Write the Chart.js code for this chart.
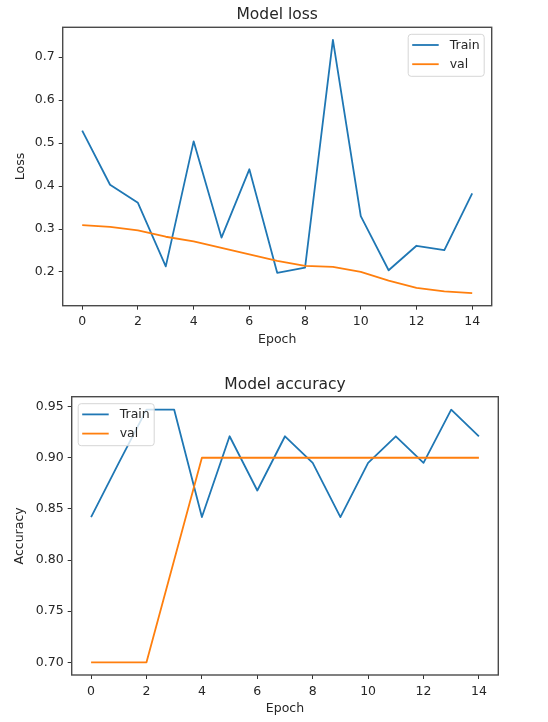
<!DOCTYPE html>
<html><head><meta charset="utf-8">
<script src="https://cdn.jsdelivr.net/npm/chart.js@4/dist/chart.umd.min.js"></script>
<style>
html,body{margin:0;padding:0;background:#fff;}
#wrap{position:relative;width:548px;height:722px;background:#fff;}
.box{position:absolute;left:0;width:548px;height:361px;}
</style></head><body>
<div id="wrap">
<div class="box" style="top:0"><canvas id="c1" width="548" height="361"></canvas></div>
<div class="box" style="top:361px"><canvas id="c2" width="548" height="361"></canvas></div>
</div>
<script>
const epochs = [0,1,2,3,4,5,6,7,8,9,10,11,12,13,14];
const lossTrain = [0.529,0.403,0.361,0.213,0.504,0.280,0.439,0.198,0.210,0.740,0.330,0.204,0.261,0.251,0.383];
const lossVal = [0.309,0.305,0.297,0.282,0.271,0.256,0.241,0.226,0.214,0.212,0.200,0.180,0.163,0.155,0.151];
const accTrain = [0.842,0.895,0.947,0.947,0.842,0.921,0.868,0.921,0.895,0.842,0.895,0.921,0.895,0.947,0.921];
const accVal = [0.70,0.70,0.70,0.80,0.90,0.90,0.90,0.90,0.90,0.90,0.90,0.90,0.90,0.90,0.90];
const lossTicks = [0.2,0.3,0.4,0.5,0.6,0.7];
const accTicks = [0.70,0.75,0.80,0.85,0.90,0.95];
const epochTicks = [0,2,4,6,8,10,12,14];
const seriesNames = ['Train','val'];

const BLUE = '#1f77b4', ORANGE = '#ff7f0e', TXT = '#262626';
const FONT = '"DejaVu Sans", sans-serif';

function makeChart(id, o) {
  const W = 548, H = 361;
  const a = o.area;
  const deco = {
    id: 'deco' + id,
    afterDraw(chart) {
      const ctx = chart.ctx, ca = chart.chartArea;
      ctx.save();
      // frame
      ctx.strokeStyle = '#4a4a4a'; ctx.lineWidth = 1.4;
      ctx.strokeRect(ca.left, ca.top, ca.right - ca.left, ca.bottom - ca.top);
      // title
      ctx.fillStyle = TXT;
      ctx.font = '15.5px ' + FONT;
      ctx.textAlign = 'center'; ctx.textBaseline = 'middle';
      ctx.fillText(o.title, (ca.left + ca.right) / 2, o.titleY);
      // x label
      ctx.font = '12.5px ' + FONT;
      ctx.fillText('Epoch', (ca.left + ca.right) / 2, o.xlabelY);
      // y label
      ctx.save();
      ctx.translate(o.ylabelX, (ca.top + ca.bottom) / 2);
      ctx.rotate(-Math.PI / 2);
      ctx.fillText(o.ylabel, 0, 0);
      ctx.restore();
      // legend
      const lg = o.legend;
      const bw = 76, bh = 42;
      const bx = lg.right ? ca.right - 7.5 - bw : ca.left + 6.5;
      const by = ca.top + 7;
      ctx.beginPath();
      if (ctx.roundRect) ctx.roundRect(bx, by, bw, bh, 3); else ctx.rect(bx, by, bw, bh);
      ctx.fillStyle = 'rgba(255,255,255,0.8)';
      ctx.fill();
      ctx.strokeStyle = '#d6d6d6'; ctx.lineWidth = 1;
      ctx.stroke();
      const cols = [BLUE, ORANGE];
      ctx.textAlign = 'left'; ctx.textBaseline = 'middle';
      ctx.font = '12.5px ' + FONT;
      for (let i = 0; i < 2; i++) {
        const yy = by + 10.7 + i * 19.2;
        ctx.strokeStyle = cols[i]; ctx.lineWidth = 1.8;
        ctx.beginPath(); ctx.moveTo(bx + 4, yy); ctx.lineTo(bx + 30.5, yy); ctx.stroke();
        ctx.fillStyle = TXT;
        ctx.fillText(seriesNames[i], bx + 41.5, yy + 0.5);
      }
      ctx.restore();
    }
  };
  return new Chart(document.getElementById(id), {
    type: 'line',
    data: {
      datasets: [
        { label: seriesNames[0], data: epochs.map((e, i) => ({x: e, y: o.train[i]})), borderColor: BLUE, borderWidth: 1.8, pointRadius: 0, tension: 0, borderJoinStyle: 'round', order: 1 },
        { label: seriesNames[1], data: epochs.map((e, i) => ({x: e, y: o.val[i]})), borderColor: ORANGE, borderWidth: 1.8, pointRadius: 0, tension: 0, borderJoinStyle: 'round', order: 0 }
      ]
    },
    options: {
      responsive: false, animation: false, devicePixelRatio: 1,
      layout: { padding: { left: 0, top: a.top, right: W - a.right, bottom: 0 } },
      plugins: { legend: { display: false }, title: { display: false }, tooltip: { enabled: false } },
      scales: {
        x: {
          type: 'linear', min: -0.7, max: 14.7,
          afterFit(s) { s.height = H - a.bottom; },
          afterBuildTicks(s) { s.ticks = epochTicks.map(v => ({value: v})); },
          grid: { display: true, drawOnChartArea: false, drawTicks: true, tickLength: 4, color: '#333', tickColor: '#333' },
          border: { display: false },
          ticks: { font: { family: FONT, size: 12.5 }, color: TXT, padding: 5, maxRotation: 0, autoSkip: false, includeBounds: false, callback: v => String(v) }
        },
        y: {
          type: 'linear', min: o.yMin, max: o.yMax,
          afterFit(s) { s.width = a.left; },
          afterBuildTicks(s) { s.ticks = o.ticks.map(v => ({value: v})); },
          grid: { display: true, drawOnChartArea: false, drawTicks: true, tickLength: 4, color: '#333', tickColor: '#333' },
          border: { display: false },
          ticks: { font: { family: FONT, size: 12.5 }, color: TXT, padding: 4, autoSkip: false, includeBounds: false, callback: v => Number(v).toFixed(o.dec) }
        }
      }
    },
    plugins: [deco]
  });
}

makeChart('c1', {
  area: {left: 62.7, top: 27.3, right: 491.7, bottom: 305.7},
  yMin: 0.1215, yMax: 0.7695, ticks: lossTicks, dec: 1,
  train: lossTrain, val: lossVal,
  title: 'Model loss', titleY: 15, xlabelY: 339.5, ylabel: 'Loss', ylabelX: 20.5,
  legend: {right: true}
});
makeChart('c2', {
  area: {left: 71.7, top: 35.7, right: 498.3, bottom: 314},
  yMin: 0.6876, yMax: 0.9597, ticks: accTicks, dec: 2,
  train: accTrain, val: accVal,
  title: 'Model accuracy', titleY: 24, xlabelY: 347.3, ylabel: 'Accuracy', ylabelX: 19.3,
  legend: {right: false}
});
</script>
</body></html>
